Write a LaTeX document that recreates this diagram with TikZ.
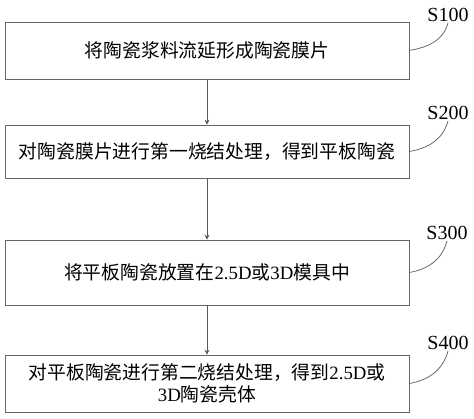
\documentclass[tikz,border=0pt]{standalone}
\usepackage{fontspec}
\setmainfont{Liberation Serif}
\newfontfamily\cjk{Noto Sans CJK SC}
\usetikzlibrary{arrows.meta}
\newcommand\latin[1]{{\rmfamily #1}}

\begin{document}
\begin{tikzpicture}[x=1pt,y=-1pt,>={Stealth[length=5pt,width=5pt]},
   stepbox/.style={draw=black!60,line width=0.7pt,minimum width=404pt,inner sep=0pt,
      align=center,font=\cjk\fontsize{18.8}{22}\selectfont},
   steplabel/.style={inner sep=1pt,font=\fontsize{20}{24}\selectfont},
   leader/.style={draw=black!65,line width=0.7pt}]
   % Page size of the reference
   \useasboundingbox (0,0) rectangle (474,418);
   % Steps
   \node [stepbox,minimum height=57pt] (b1) at (207,50.5) {将陶瓷浆料流延形成陶瓷膜片};
   \node [stepbox,minimum height=53pt] (b2) at (207,151.5) {对陶瓷膜片进行第一烧结处理，得到平板陶瓷};
   \node [stepbox,minimum height=65pt] (b3) at (207,272.5) {将平板陶瓷放置在\latin{2.5D}或\latin{3D}模具中};
   \node [stepbox,minimum height=57pt] (b4) at (207,383.5) {对平板陶瓷进行第二烧结处理，得到\latin{2.5D}或\\\latin{3D}陶瓷壳体};
   % Arrows between steps
   \draw [->,leader] (b1) -- (b2);
   \draw [->,leader] (b2) -- (b3);
   \draw [->,leader] (b3) -- (b4);
   % Step numbers
   \node [steplabel] (l1) at (448,15) {S100};
   \node [steplabel] (l2) at (448,113) {S200};
   \node [steplabel] (l3) at (447,233) {S300};
   \node [steplabel] (l4) at (448,343) {S400};
   \draw [leader] (b1.east) to [out=10,in=-105] (l1.south);
   \draw [leader] (b2.east) to [out=10,in=-105] (l2.south);
   \draw [leader] (b3.east) to [out=10,in=-105] (l3.south);
   \draw [leader] (b4.east) to [out=10,in=-105] (l4.south);
\end{tikzpicture}
\end{document}
